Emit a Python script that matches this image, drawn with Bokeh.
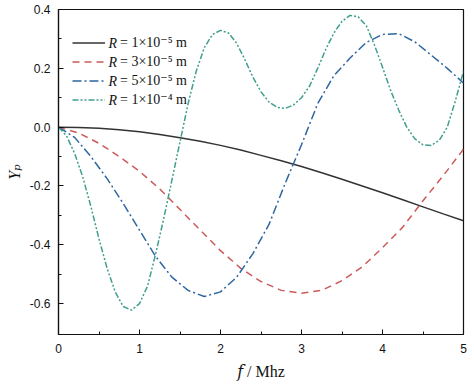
from bokeh.plotting import figure
from bokeh.models import Range1d, FixedTicker, Label, Legend, LegendItem
from bokeh.embed import file_html
from bokeh.resources import INLINE

# ---- data ----
f_black = [0, 0.25, 0.5, 0.75, 1.0, 1.25, 1.5, 1.75, 2.0, 2.25, 2.5, 2.75, 3.0,
           3.25, 3.5, 3.75, 4.0, 4.25, 4.5, 4.75, 5.0]
y_black = [0, -0.001, -0.004, -0.009, -0.016, -0.025, -0.036, -0.048, -0.062, -0.078,
           -0.096, -0.114, -0.134, -0.155, -0.177, -0.200, -0.223, -0.247, -0.271,
           -0.295, -0.318]

f_red = [0, 0.25, 0.5, 0.75, 1.0, 1.25, 1.5, 1.75, 2.0, 2.25, 2.5, 2.75, 3.0,
         3.25, 3.5, 3.75, 4.0, 4.25, 4.5, 4.75, 5.0]
y_red = [0, -0.02, -0.055, -0.10, -0.15, -0.21, -0.28, -0.35, -0.42, -0.48, -0.525,
         -0.555, -0.565, -0.555, -0.522, -0.475, -0.41, -0.34, -0.25, -0.165, -0.075]

f_blue = [0, 0.2, 0.4, 0.6, 0.8, 1.0, 1.2, 1.4, 1.6, 1.8, 2.0, 2.2, 2.4, 2.6, 2.8,
          3.0, 3.2, 3.4, 3.6, 3.8, 4.0, 4.2, 4.4, 4.6, 4.8, 5.0]
y_blue = [0, -0.035, -0.10, -0.175, -0.26, -0.35, -0.44, -0.51, -0.555, -0.576,
          -0.56, -0.51, -0.43, -0.33, -0.19, -0.06, 0.08, 0.175, 0.235, 0.288, 0.315,
          0.318, 0.29, 0.245, 0.20, 0.15]

f_green = [0, 0.1, 0.2, 0.3, 0.4, 0.5, 0.6, 0.7, 0.8, 0.9, 1.0, 1.1, 1.2, 1.3, 1.4,
           1.5, 1.6, 1.7, 1.8, 1.9, 2.0, 2.1, 2.2, 2.3, 2.4, 2.5, 2.6, 2.7, 2.8, 2.9,
           3.0, 3.1, 3.2, 3.3, 3.4, 3.5, 3.6, 3.7, 3.8, 3.9, 4.0, 4.1, 4.2, 4.3, 4.4,
           4.5, 4.6, 4.7, 4.8, 4.9, 5.0]
y_green = [0, -0.03, -0.09, -0.17, -0.27, -0.38, -0.48, -0.56, -0.61, -0.622, -0.60,
           -0.54, -0.43, -0.31, -0.18, -0.05, 0.08, 0.19, 0.27, 0.315, 0.329, 0.32,
           0.285, 0.23, 0.17, 0.12, 0.085, 0.067, 0.064, 0.075, 0.10, 0.14, 0.20,
           0.265, 0.32, 0.36, 0.38, 0.375, 0.345, 0.28, 0.204, 0.125, 0.058, 0.0,
           -0.04, -0.06, -0.062, -0.045, 0.0, 0.09, 0.19]

series_values = ["1×10⁻⁵ m", "3×10⁻⁵ m", "5×10⁻⁵ m", "1×10⁻⁴ m"]

x_ticks = [0, 1, 2, 3, 4, 5]
x_minor = [0.5, 1.5, 2.5, 3.5, 4.5]
y_ticks = [-0.6, -0.4, -0.2, 0.0, 0.2, 0.4]
y_minor = [-0.5, -0.3, -0.1, 0.1, 0.3]
y_tick_labels = ["-0.6", "-0.4", "-0.2", "0.0", "0.2", "0.4"]

x_title = "𝑓 / Mhz"
y_title = "Yₚ"

SERIF = "'Liberation Serif', 'DejaVu Serif', serif"
SANS = "Liberation Sans"

p = figure(width=474, height=387, output_backend="svg", toolbar_location=None,
           x_range=Range1d(0, 5), y_range=Range1d(-0.705, 0.4),
           min_border_left=58, min_border_right=11, min_border_top=9,
           min_border_bottom=53)
p.background_fill_color = "white"
p.border_fill_color = "white"
p.grid.visible = False
p.outline_line_color = "#111111"
p.outline_line_width = 1.2

for ax in (p.xaxis[0], p.yaxis[0]):
    ax.axis_line_color = "#111111"
    ax.axis_line_width = 1.2
    ax.major_tick_line_color = "#111111"
    ax.minor_tick_line_color = "#111111"
    ax.major_tick_in = 5
    ax.major_tick_out = 0
    ax.minor_tick_in = 3
    ax.minor_tick_out = 0
    ax.major_label_text_font = SANS
    ax.major_label_text_font_size = "12px"
    ax.major_label_text_color = "#111111"
    ax.axis_label_text_font = SERIF
    ax.axis_label_text_font_size = "16px"
    ax.axis_label_text_color = "#111111"

p.xaxis.ticker = FixedTicker(ticks=x_ticks, minor_ticks=x_minor)
p.yaxis.ticker = FixedTicker(ticks=y_ticks, minor_ticks=y_minor)
p.yaxis.major_label_overrides = {t: l for t, l in zip(y_ticks, y_tick_labels)}
p.xaxis.major_label_standoff = 9
p.yaxis.major_label_standoff = 8

p.xaxis.axis_label = x_title
p.xaxis.axis_label_text_font_style = "normal"
p.xaxis.axis_label_standoff = 7
p.yaxis.axis_label = y_title
p.yaxis.axis_label_text_font_style = "italic"
p.yaxis.axis_label_standoff = 4

r1 = p.line(f_black, y_black, line_color="#333333", line_width=1.5)
r2 = p.line(f_red, y_red, line_color="#cc5a5a", line_width=1.5, line_dash="7 5")
r3 = p.line(f_blue, y_blue, line_color="#2e66a0", line_width=1.5, line_dash="9 3 2 3")
r4 = p.line(f_green, y_green, line_color="#3f9e8e", line_width=1.5,
            line_dash="6 2 2 2 2 2")

LEG_X, LEG_Y, ROW = 14, 225, 19
legend = Legend(items=[LegendItem(label="= " + s, renderers=[r])
                       for s, r in zip(series_values, [r1, r2, r3, r4])],
                location=(LEG_X, LEG_Y), orientation="vertical")
legend.padding = 0
legend.margin = 0
legend.spacing = 0
legend.border_line_color = None
legend.background_fill_alpha = 0
legend.glyph_width = 33
legend.glyph_height = ROW
legend.label_height = ROW
legend.label_standoff = 15
legend.label_text_font = SERIF
legend.label_text_font_size = "14px"
legend.label_text_color = "#111111"
p.add_layout(legend)

# italic R in each legend row
row_top = LEG_Y + 4 * ROW
for i in range(4):
    p.add_layout(Label(x=50, y=row_top - ROW / 2 - i * ROW, x_units="screen",
                       y_units="screen", text="R", text_font=SERIF,
                       text_font_style="italic", text_font_size="14px",
                       text_color="#111111", text_align="left",
                       text_baseline="middle"))

open("out.html", "w").write(file_html(p, INLINE))
